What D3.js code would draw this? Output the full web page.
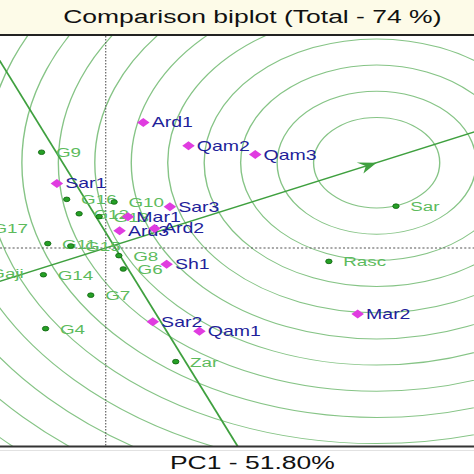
<!DOCTYPE html>
<html>
<head>
<meta charset="utf-8">
<script src="https://cdn.jsdelivr.net/npm/d3@7"></script>
<style>
  html, body { margin: 0; padding: 0; background: #fff; }
  svg { display: block; font-family: "Liberation Sans", Arial, sans-serif; }
</style>
</head>
<body>
<div id="chart"></div>
<script>
// Testers (environments) - PC1 / PC2 scores
const envNames = ["Ard1", "Qam2", "Qam3", "Sar1", "Sar3", "Mar1", "Ard3", "Ard2", "Sh1", "Sar2", "Qam1", "Mar2"];
const envPC1 = [1.03, 2.27, 4.10, -1.34, 1.76, 0.61, 0.38, 1.34, 1.67, 1.29, 2.57, 6.91];
const envPC2 = [4.80, 3.91, 3.57, 2.47, 1.58, 1.20, 0.66, 0.75, -0.62, -2.82, -3.18, -2.52];

// Entries (genotypes) - PC1 / PC2 scores
const genNames = ["G9", "G16", "G10", "G12", "G13", "G17", "G11", "G15", "G8", "G6", "Gaji", "G14", "G7", "G4", "Zar", "Sar", "Rasc"];
const genPC1 = [-1.76, -1.07, 0.23, -0.73, -0.18, -3.50, -1.59, -0.96, 0.36, 0.48, -3.56, -1.71, -0.41, -1.65, 1.92, 7.96, 6.12];
const genPC2 = [3.66, 1.86, 1.76, 1.31, 1.20, 0.76, 0.17, 0.08, -0.29, -0.80, -0.94, -1.02, -1.80, -3.08, -4.34, 1.60, -0.51];

// ideal point (centre of the rings), ring radii and the AEC ordinate
const idealPoint = [7.43, 3.26];
const ringRadii = [1.73, 2.73, 3.73, 4.73, 5.73, 6.73, 7.73, 8.73, 9.73, 10.73, 11.73, 12.73, 13.73, 14.73, 15.73];
const ordinatePts = [[-2.9, 7.14], [3.63, -7.60]];

const titleText = "Comparison biplot (Total - 74 %)";
const xTitle = "PC1 - 51.80%";

// the picture is stretched sideways, so draw in a narrower box and let the viewBox stretch it
const W = 340, H = 474;
const plotTop = 36, plotBottom = 446;

const svg = d3.select("#chart").append("svg")
    .attr("width", 474)
    .attr("height", 474)
    .attr("viewBox", `0 0 ${W} ${H}`)
    .attr("preserveAspectRatio", "none");

const x = d3.scaleLinear().domain([-2.9, 10.1]).range([0, W]);
const y = d3.scaleLinear().domain([-7.6, 8.1]).range([447, plotTop]);

// header band
svg.append("rect").attr("x", 0).attr("y", 0).attr("width", W).attr("height", plotTop - 1)
    .attr("fill", "#fdfbe8");

svg.append("text")
    .attr("x", 181).attr("y", 23)
    .attr("text-anchor", "middle")
    .attr("font-size", 19)
    .attr("fill", "#111")
    .text(titleText);

svg.append("defs").append("clipPath").attr("id", "plot-clip")
    .append("rect").attr("x", 0).attr("y", plotTop).attr("width", W).attr("height", plotBottom - plotTop);

const plot = svg.append("g").attr("clip-path", "url(#plot-clip)");

// rings round the ideal point
plot.selectAll(".ring")
    .data(ringRadii)
    .enter().append("ellipse")
    .attr("class", "ring")
    .attr("cx", x(idealPoint[0]))
    .attr("cy", y(idealPoint[1]))
    .attr("rx", d => x(d) - x(0))
    .attr("ry", d => y(0) - y(d))
    .attr("fill", "none")
    .attr("stroke", "#86c486")
    .attr("stroke-width", 1);

// dotted PC axes
plot.append("line")
    .attr("x1", x(0)).attr("x2", x(0)).attr("y1", plotTop).attr("y2", plotBottom)
    .attr("stroke", "#555").attr("stroke-width", 0.8).attr("stroke-dasharray", "1.5,1.5");
plot.append("line")
    .attr("x1", 0).attr("x2", W).attr("y1", y(0)).attr("y2", y(0))
    .attr("stroke", "#555").attr("stroke-width", 1).attr("stroke-dasharray", "1.5,1.5");

// AEC abscissa through the origin and the ideal point
plot.append("line")
    .attr("x1", x(-2 * idealPoint[0])).attr("y1", y(-2 * idealPoint[1]))
    .attr("x2", x(3 * idealPoint[0])).attr("y2", y(3 * idealPoint[1]))
    .attr("stroke", "#3fa03f").attr("stroke-width", 1.4);

// AEC ordinate
const [p0, p1] = ordinatePts;
const ext = t => [p0[0] + t * (p1[0] - p0[0]), p0[1] + t * (p1[1] - p0[1])];
plot.append("line")
    .attr("x1", x(ext(-1)[0])).attr("y1", y(ext(-1)[1]))
    .attr("x2", x(ext(2)[0])).attr("y2", y(ext(2)[1]))
    .attr("stroke", "#3fa03f").attr("stroke-width", 1.4);

// arrow head at the ideal point
const ang = Math.atan2(y(idealPoint[1]) - y(0), x(idealPoint[0]) - x(0)) * 180 / Math.PI;
plot.append("path")
    .attr("d", "M0,0 L-13,-6 L-8.5,0 L-13,6 Z")
    .attr("transform", `translate(${x(idealPoint[0])},${y(idealPoint[1])}) rotate(${ang})`)
    .attr("fill", "#3fa03f");

// genotypes
const gens = genNames.map((n, i) => ({ name: n, pc1: genPC1[i], pc2: genPC2[i] }));
const g = plot.selectAll(".gen")
    .data(gens)
    .enter().append("g")
    .attr("class", "gen")
    .attr("transform", d => `translate(${x(d.pc1)},${y(d.pc2)})`);

g.append("circle")
    .attr("r", 2.3)
    .attr("fill", "#25a025")
    .attr("stroke", "#136613")
    .attr("stroke-width", 0.7);

g.append("text")
    .attr("x", 10.3).attr("y", 5)
    .attr("font-size", 13.5)
    .attr("fill", "#5dbb5d")
    .text(d => d.name);

// environments
const envs = envNames.map((n, i) => ({ name: n, pc1: envPC1[i], pc2: envPC2[i] }));
const e = plot.selectAll(".env")
    .data(envs)
    .enter().append("g")
    .attr("class", "env")
    .attr("transform", d => `translate(${x(d.pc1)},${y(d.pc2)})`);

e.append("path")
    .attr("d", "M0,-4.5 L4.5,0 L0,4.5 L-4.5,0 Z")
    .attr("fill", "#e03ce0");

e.append("text")
    .attr("x", 6).attr("y", 5)
    .attr("font-size", 14)
    .attr("fill", "#1f1f9a")
    .text(d => d.name);

// frame lines
svg.append("line").attr("x1", 0).attr("x2", W).attr("y1", 35).attr("y2", 35)
    .attr("stroke", "#222").attr("stroke-width", 2);
svg.append("line").attr("x1", 0).attr("x2", W).attr("y1", 446.5).attr("y2", 446.5)
    .attr("stroke", "#333").attr("stroke-width", 2);
svg.append("line").attr("x1", 0).attr("x2", W).attr("y1", 450.5).attr("y2", 450.5)
    .attr("stroke", "#e2e2e2").attr("stroke-width", 1);

svg.append("text")
    .attr("x", 181).attr("y", 469)
    .attr("text-anchor", "middle")
    .attr("font-size", 19)
    .attr("fill", "#111")
    .text(xTitle);
</script>
</body>
</html>
